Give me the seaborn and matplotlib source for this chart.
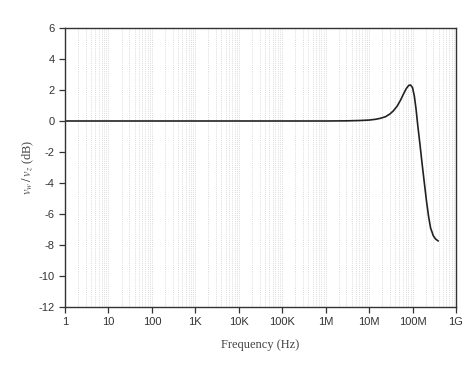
import numpy as np
import pandas as pd
import matplotlib
matplotlib.use("Agg")
import matplotlib.pyplot as plt
import seaborn as sns
from matplotlib.ticker import FixedLocator, LogLocator, NullFormatter

freq_hz = [1, 1e3, 1e6, 3e6, 6e6, 1e7, 1.4e7, 1.8e7, 2.4e7, 3.0e7, 3.6e7, 4.4e7,
           5.3e7, 6.2e7, 7.2e7, 8.2e7, 9.0e7, 1.0e8, 1.1e8, 1.2e8, 1.32e8, 1.48e8,
           1.65e8, 1.85e8, 2.1e8, 2.35e8, 2.6e8, 3.0e8, 3.4e8, 3.9e8]
gain_db = [0.0, 0.0, 0.0, 0.01, 0.03, 0.06, 0.11, 0.17, 0.28, 0.45, 0.65, 0.95,
           1.35, 1.75, 2.1, 2.3, 2.32, 2.15, 1.6, 0.8, -0.3, -1.5,
           -2.7, -3.9, -5.2, -6.2, -6.9, -7.4, -7.62, -7.74]

xtick_vals = [1, 10, 100, 1e3, 1e4, 1e5, 1e6, 1e7, 1e8, 1e9]
xtick_labels = ["1", "10", "100", "1K", "10K", "100K", "1M", "10M", "100M", "1G"]
ytick_vals = [6, 4, 2, 0, -2, -4, -6, -8, -10, -12]

sns.set_style("white")
plt.rcParams["font.family"] = ["Liberation Sans", "DejaVu Sans"]
plt.rcParams["mathtext.fontset"] = "stix"

fig = plt.figure(figsize=(4.74, 3.69), dpi=100)
ax = fig.add_axes([65/474, 1-307/369, (456-65)/474, (307-28)/369])

df = pd.DataFrame({"f": freq_hz, "g": gain_db})
sns.lineplot(data=df, x="f", y="g", ax=ax, color="#222222", linewidth=1.2, sort=True)

ax.set_xscale("log")
ax.set_xlim(1, 1e9)
ax.set_ylim(-12, 6)
ax.xaxis.set_major_locator(FixedLocator(xtick_vals))
ax.set_xticklabels(xtick_labels)
ax.xaxis.set_minor_locator(LogLocator(base=10, subs=np.arange(2, 10)))
ax.xaxis.set_minor_formatter(NullFormatter())
ax.set_yticks(ytick_vals)
ax.set_yticklabels([str(v) for v in ytick_vals])

ax.grid(False)
ax.grid(True, axis="x", which="both", linestyle=(0, (1, 1.5)), color="#d0d0d0", linewidth=0.6)

for s in ax.spines.values():
    s.set_color("#333333")
    s.set_linewidth(1.0)
ax.tick_params(axis="both", which="major", direction="out", length=4, width=0.9,
               color="#333333", labelsize=8, labelcolor="#333333", bottom=True, left=True)
ax.tick_params(axis="x", which="minor", length=0)

ax.set_xlabel("Frequency (Hz)", fontsize=9, family=["Liberation Serif"], color="#444444", labelpad=8)
ax.set_ylabel(r"$v_w\,/\,v_z$" + " (dB)", fontsize=9, family=["Liberation Serif"], color="#444444", labelpad=2)

fig.savefig("out.png", dpi=100)
